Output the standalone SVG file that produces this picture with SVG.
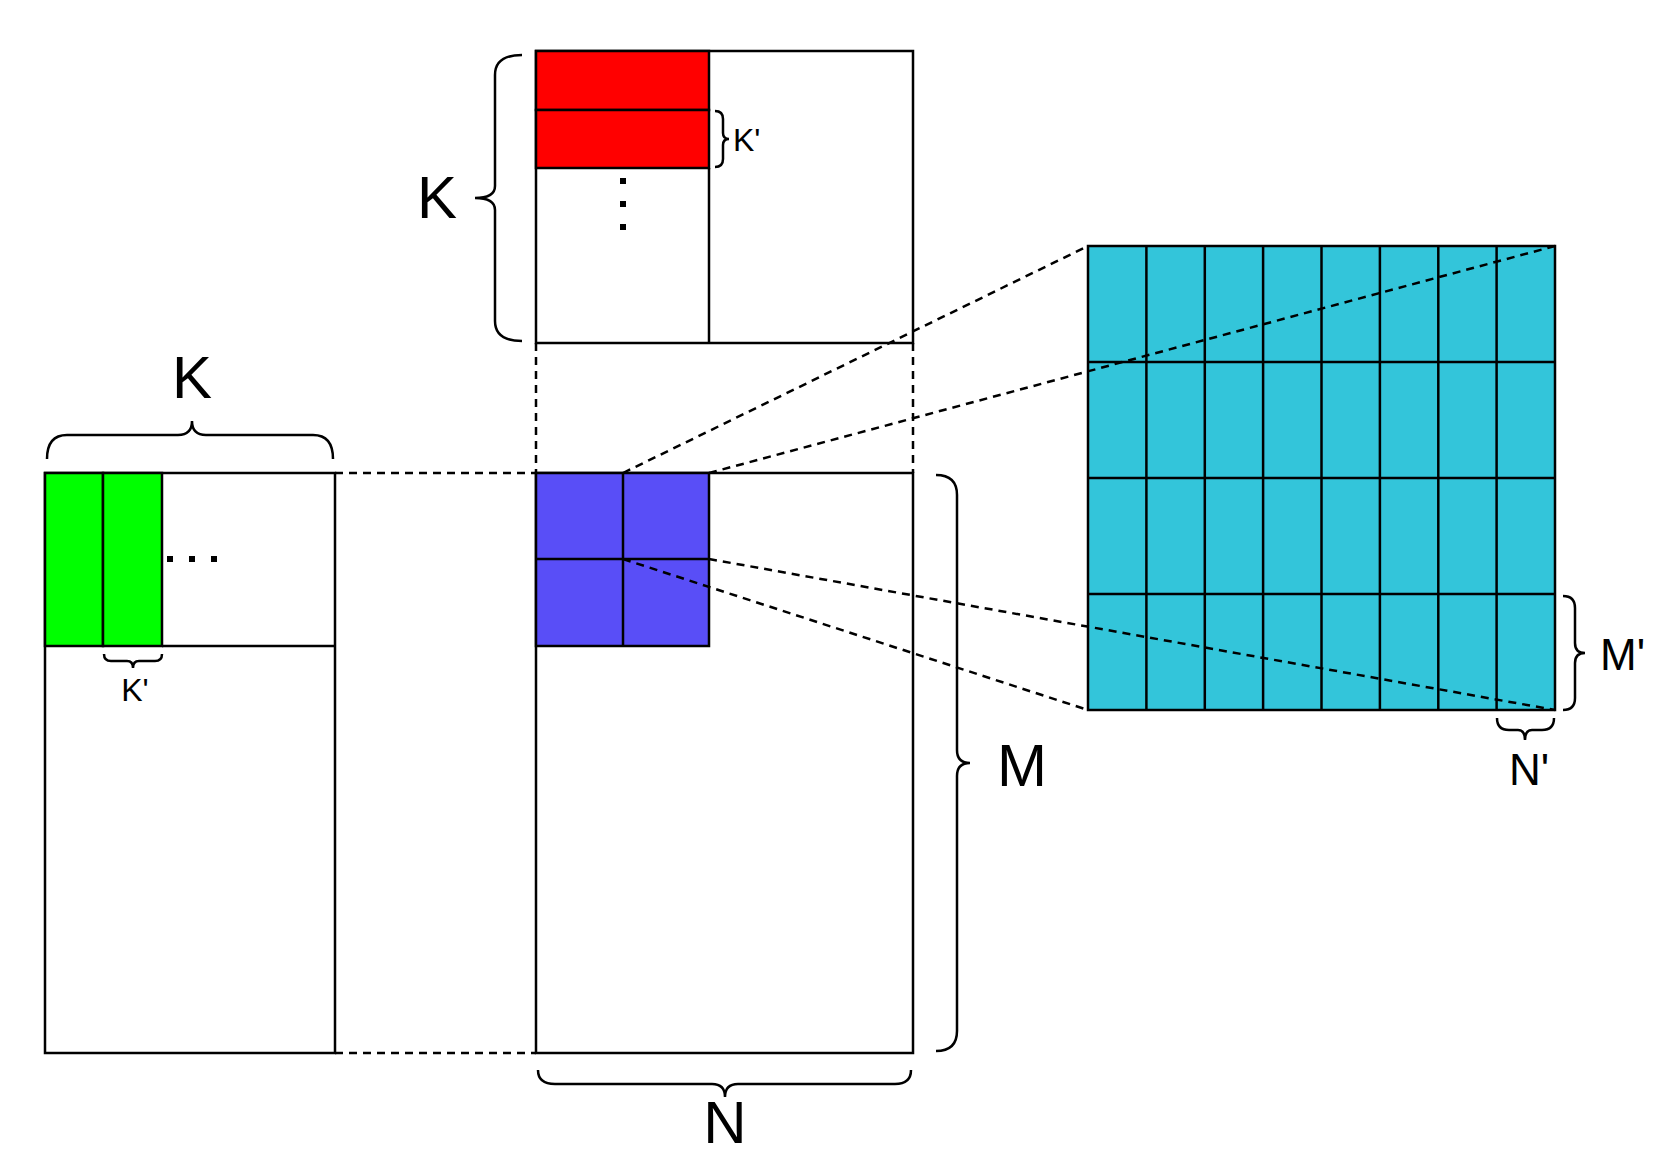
<svg xmlns="http://www.w3.org/2000/svg" width="1662" height="1171" viewBox="0 0 1662 1171">
<style>
.b{stroke:#000;stroke-width:2.5;}
.br{fill:none;stroke:#000;stroke-width:2.5;}
.d{stroke:#000;stroke-width:2.5;stroke-dasharray:8 6;fill:none;}
text{font-family:"Liberation Sans",Arial,sans-serif;fill:#000;}
</style>
<rect width="1662" height="1171" fill="#fff"/>
<g id="top-matrix">
<rect class="b" x="536" y="51" width="377" height="292" fill="#fff"/>
<rect class="b" x="536" y="51" width="173" height="59" fill="#f00"/>
<rect class="b" x="536" y="110" width="173" height="58" fill="#f00"/>
<line class="b" x1="709" y1="168" x2="709" y2="343"/>
<rect x="620" y="178" width="6" height="6"/><rect x="620" y="201" width="6" height="6"/><rect x="620" y="224" width="6" height="6"/>
<path class="br" d="M522 55 Q495 55 495 75 L495 186 Q495 198 475 198 Q495 198 495 210 L495 321 Q495 341 522 341"/>
<text x="437" y="218" font-size="60" text-anchor="middle">K</text>
<path class="br" d="M715 111 Q723 111 723 119 L723 133 Q723 139 729 139 Q723 139 723 145 L723 159 Q723 167 715 167"/>
<text x="733" y="151" font-size="32">K'</text>
</g>
<g id="left-matrix">
<rect class="b" x="45" y="473" width="290" height="580" fill="#fff"/>
<rect class="b" x="45" y="473" width="58" height="173" fill="#0f0"/>
<rect class="b" x="103" y="473" width="59" height="173" fill="#0f0"/>
<line class="b" x1="162" y1="646" x2="335" y2="646"/>
<rect x="167" y="556" width="6" height="6"/><rect x="189" y="556" width="6" height="6"/><rect x="211" y="556" width="6" height="6"/>
<path class="br" d="M47 459 Q47 435 67 435 L178 435 Q192 435 192 421 Q192 435 206 435 L313 435 Q333 435 333 459"/>
<text x="192" y="398" font-size="60" text-anchor="middle">K</text>
<path class="br" d="M104 654 Q104 661 111 661 L127 661 Q133 661 133 668 Q133 661 139 661 L155 661 Q162 661 162 654"/>
<text x="135" y="701" font-size="32" text-anchor="middle">K'</text>
</g>
<g id="result-matrix">
<rect class="b" x="536" y="473" width="377" height="580" fill="#fff"/>
<rect class="b" x="536" y="473" width="173" height="173" fill="#594ef7"/>
<line class="b" x1="623" y1="473" x2="623" y2="646"/>
<line class="b" x1="536" y1="559" x2="709" y2="559"/>
<path class="br" d="M936 475 Q957 475 957 495 L957 750 Q957 763 970 763 Q957 763 957 776 L957 1031 Q957 1051 936 1051"/>
<text x="1022" y="786" font-size="60" text-anchor="middle">M</text>
<path class="br" d="M538 1070 Q538 1084 555 1084 L712 1084 Q725 1084 725 1097 Q725 1084 738 1084 L895 1084 Q911 1084 911 1070"/>
<text x="725" y="1143" font-size="60" text-anchor="middle">N</text>
</g>
<g id="tile">
<rect class="b" x="1088" y="246" width="467" height="464" fill="#33c5da"/>
<g class="b">
<line x1="1146.4" y1="246" x2="1146.4" y2="710"/><line x1="1204.8" y1="246" x2="1204.8" y2="710"/>
<line x1="1263.1" y1="246" x2="1263.1" y2="710"/><line x1="1321.5" y1="246" x2="1321.5" y2="710"/>
<line x1="1379.9" y1="246" x2="1379.9" y2="710"/><line x1="1438.3" y1="246" x2="1438.3" y2="710"/>
<line x1="1496.6" y1="246" x2="1496.6" y2="710"/>
<line x1="1088" y1="362" x2="1555" y2="362"/><line x1="1088" y1="478" x2="1555" y2="478"/>
<line x1="1088" y1="594" x2="1555" y2="594"/>
</g>
<path class="br" d="M1563 596 Q1575 596 1575 608 L1575 643 Q1575 653 1585 653 Q1575 653 1575 663 L1575 698 Q1575 710 1563 710"/>
<text x="1600" y="670" font-size="44">M'</text>
<path class="br" d="M1497 718 Q1497 730 1509 730 L1518 730 Q1525 730 1525 740 Q1525 730 1532 730 L1542 730 Q1554 730 1554 718"/>
<text x="1529" y="785" font-size="44" text-anchor="middle">N'</text>
</g>
<g id="connectors">
<line class="d" x1="536" y1="343" x2="536" y2="473"/>
<line class="d" x1="913" y1="343" x2="913" y2="473"/>
<line class="d" x1="335" y1="473" x2="536" y2="473"/>
<line class="d" x1="335" y1="1053" x2="536" y2="1053"/>
<line class="d" x1="623" y1="473" x2="1088" y2="246"/>
<line class="d" x1="709" y1="473" x2="1555" y2="246"/>
<line class="d" x1="709" y1="559" x2="1555" y2="710"/>
<line class="d" x1="623" y1="559" x2="1088" y2="710"/>
</g>
</svg>
